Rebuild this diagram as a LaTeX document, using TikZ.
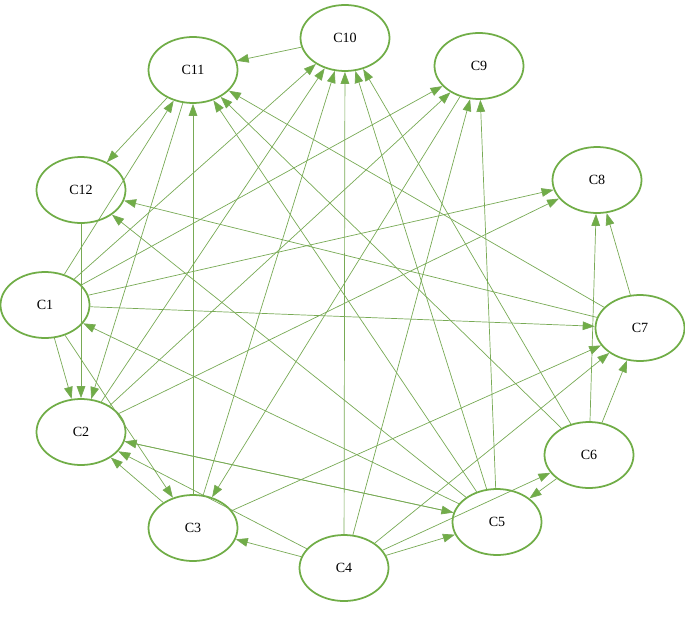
\documentclass[tikz,border=0pt]{standalone}
\usepackage{fontspec}
\setmainfont{Liberation Serif}
\usetikzlibrary{arrows.meta,shapes.geometric}
\definecolor{gline}{RGB}{112,173,71}
\definecolor{gedge}{RGB}{120,170,85}
\begin{document}
\begin{tikzpicture}[x=0.03cm,y=-0.03cm]
\tikzstyle{crit} = [ellipse, minimum width=2.67cm, minimum height=1.98cm, draw=gline, line width=1.5pt, font=\large]
\tikzstyle{arrow} = [draw=gedge, line width=0.6pt, -{Triangle[length=3.6mm,width=2.6mm,fill=gline]}]
\useasboundingbox (0,0) rectangle (685,622);

%nodes
\node (c10) [crit] at (345,38) {C10};
\node (c11) [crit] at (193,70) {C11};
\node (c9)  [crit] at (479,66) {C9};
\node (c12) [crit] at (81,190) {C12};
\node (c8)  [crit] at (597,180) {C8};
\node (c1)  [crit] at (45,305) {C1};
\node (c7)  [crit] at (640,328) {C7};
\node (c2)  [crit] at (81,432) {C2};
\node (c6)  [crit] at (589,455) {C6};
\node (c3)  [crit] at (193,528) {C3};
\node (c5)  [crit] at (497,522) {C5};
\node (c4)  [crit] at (344,568) {C4};

%lines
\path[arrow]
(c10) edge (c11)
(c11) edge (c12)
(c11) edge (c2)
(c12) edge (c2)
(c1)  edge (c2)
(c1)  edge (c3)
(c1)  edge (c11)
(c1)  edge (c10)
(c1)  edge (c9)
(c1)  edge (c8)
(c1)  edge (c7)
(c2)  edge (c10)
(c2)  edge (c9)
(c2)  edge (c8)
(c2)  edge (c5)
(c3)  edge (c2)
(c3)  edge (c11)
(c3)  edge (c10)
(c3)  edge (c7)
(c4)  edge (c3)
(c4)  edge (c2)
(c4)  edge (c10)
(c4)  edge (c9)
(c4)  edge (c7)
(c4)  edge (c6)
(c4)  edge (c5)
(c5)  edge (c1)
(c5)  edge (c12)
(c5)  edge (c11)
(c5)  edge (c10)
(c5)  edge (c9)
(c5)  edge (c2)
(c6)  edge (c5)
(c6)  edge (c11)
(c6)  edge (c10)
(c6)  edge (c8)
(c6)  edge (c7)
(c7)  edge (c8)
(c7)  edge (c12)
(c7)  edge (c11)
(c9)  edge (c3)
;
\end{tikzpicture}
\end{document}
